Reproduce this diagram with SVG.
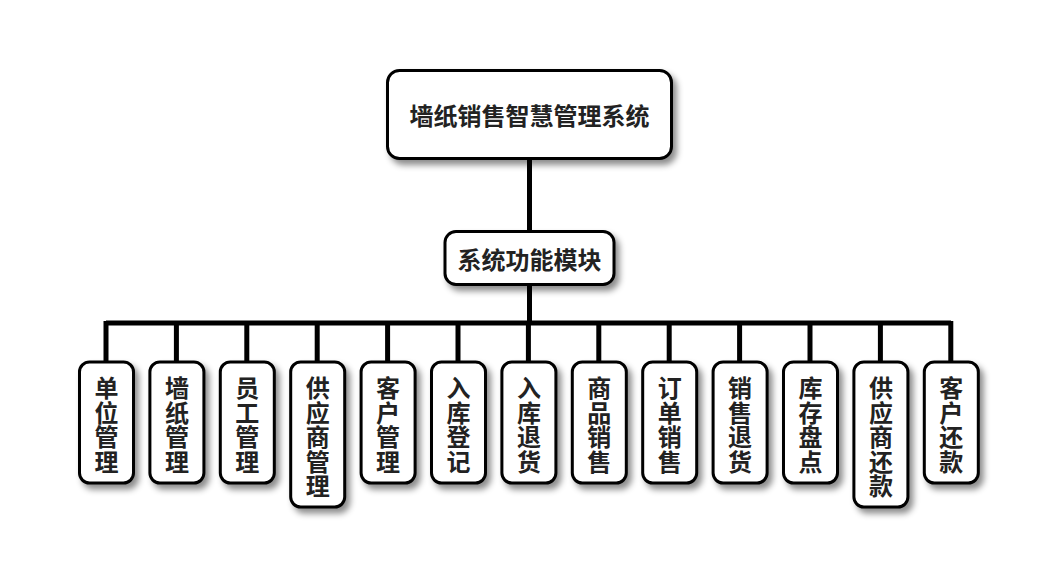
<svg xmlns="http://www.w3.org/2000/svg" width="1057" height="583" viewBox="0 0 1057 583">
<defs>
<filter id="sh" x="-30%" y="-30%" width="160%" height="160%">
<feDropShadow dx="4" dy="5" stdDeviation="3" flood-color="#000" flood-opacity="0.45"/>
</filter>
<style>
.box{fill:#fff;stroke:#000;stroke-width:3;filter:url(#sh)}
.t{font-family:"Noto Sans CJK SC","Noto Sans",sans-serif;font-weight:bold;font-size:24px;fill:#222;text-anchor:middle;dominant-baseline:central}
.c{stroke:#000;stroke-width:5;fill:none}
</style>
</defs>
<rect width="1057" height="583" fill="#fff"/>
<g id="connectors">
<path class="c" d="M529.5 158V232M529.5 284V323M106 323H951M106 321V362M176.4 321V362M246.8 321V362M317.2 321V362M387.6 321V362M458 321V362M528.4 321V362M598.8 321V362M669.2 321V362M739.6 321V362M810 321V362M880.4 321V362M950.8 321V362"/>
</g>
<g id="root"><rect class="box" x="387.5" y="70.5" width="284" height="88" rx="12"/><text class="t" x="529.5" y="114">墙纸销售智慧管理系统</text></g>
<g id="module"><rect class="box" x="445" y="231.5" width="169" height="53" rx="11"/><text class="t" x="529.5" y="258">系统功能模块</text></g>
<g id="n1"><rect class="box" x="79.5" y="362" width="54" height="121" rx="10"/><text class="t"><tspan x="106.5" y="386">单</tspan><tspan x="106.5" dy="24.5">位</tspan><tspan x="106.5" dy="24.5">管</tspan><tspan x="106.5" dy="24.5">理</tspan></text></g>
<g id="n2"><rect class="box" x="149.9" y="362" width="54" height="121" rx="10"/><text class="t"><tspan x="176.9" y="386">墙</tspan><tspan x="176.9" dy="24.5">纸</tspan><tspan x="176.9" dy="24.5">管</tspan><tspan x="176.9" dy="24.5">理</tspan></text></g>
<g id="n3"><rect class="box" x="220.3" y="362" width="54" height="121" rx="10"/><text class="t"><tspan x="247.3" y="386">员</tspan><tspan x="247.3" dy="24.5">工</tspan><tspan x="247.3" dy="24.5">管</tspan><tspan x="247.3" dy="24.5">理</tspan></text></g>
<g id="n4"><rect class="box" x="290.7" y="362" width="54" height="145" rx="10"/><text class="t"><tspan x="317.7" y="386">供</tspan><tspan x="317.7" dy="24.5">应</tspan><tspan x="317.7" dy="24.5">商</tspan><tspan x="317.7" dy="24.5">管</tspan><tspan x="317.7" dy="24.5">理</tspan></text></g>
<g id="n5"><rect class="box" x="361.1" y="362" width="54" height="121" rx="10"/><text class="t"><tspan x="388.1" y="386">客</tspan><tspan x="388.1" dy="24.5">户</tspan><tspan x="388.1" dy="24.5">管</tspan><tspan x="388.1" dy="24.5">理</tspan></text></g>
<g id="n6"><rect class="box" x="431.5" y="362" width="54" height="121" rx="10"/><text class="t"><tspan x="458.5" y="386">入</tspan><tspan x="458.5" dy="24.5">库</tspan><tspan x="458.5" dy="24.5">登</tspan><tspan x="458.5" dy="24.5">记</tspan></text></g>
<g id="n7"><rect class="box" x="501.9" y="362" width="54" height="121" rx="10"/><text class="t"><tspan x="528.9" y="386">入</tspan><tspan x="528.9" dy="24.5">库</tspan><tspan x="528.9" dy="24.5">退</tspan><tspan x="528.9" dy="24.5">货</tspan></text></g>
<g id="n8"><rect class="box" x="572.3" y="362" width="54" height="121" rx="10"/><text class="t"><tspan x="599.3" y="386">商</tspan><tspan x="599.3" dy="24.5">品</tspan><tspan x="599.3" dy="24.5">销</tspan><tspan x="599.3" dy="24.5">售</tspan></text></g>
<g id="n9"><rect class="box" x="642.7" y="362" width="54" height="121" rx="10"/><text class="t"><tspan x="669.7" y="386">订</tspan><tspan x="669.7" dy="24.5">单</tspan><tspan x="669.7" dy="24.5">销</tspan><tspan x="669.7" dy="24.5">售</tspan></text></g>
<g id="n10"><rect class="box" x="713.1" y="362" width="54" height="121" rx="10"/><text class="t"><tspan x="740.1" y="386">销</tspan><tspan x="740.1" dy="24.5">售</tspan><tspan x="740.1" dy="24.5">退</tspan><tspan x="740.1" dy="24.5">货</tspan></text></g>
<g id="n11"><rect class="box" x="783.5" y="362" width="54" height="121" rx="10"/><text class="t"><tspan x="810.5" y="386">库</tspan><tspan x="810.5" dy="24.5">存</tspan><tspan x="810.5" dy="24.5">盘</tspan><tspan x="810.5" dy="24.5">点</tspan></text></g>
<g id="n12"><rect class="box" x="853.9" y="362" width="54" height="145" rx="10"/><text class="t"><tspan x="880.9" y="386">供</tspan><tspan x="880.9" dy="24.5">应</tspan><tspan x="880.9" dy="24.5">商</tspan><tspan x="880.9" dy="24.5">还</tspan><tspan x="880.9" dy="24.5">款</tspan></text></g>
<g id="n13"><rect class="box" x="924.3" y="362" width="54" height="121" rx="10"/><text class="t"><tspan x="951.3" y="386">客</tspan><tspan x="951.3" dy="24.5">户</tspan><tspan x="951.3" dy="24.5">还</tspan><tspan x="951.3" dy="24.5">款</tspan></text></g>
</svg>
